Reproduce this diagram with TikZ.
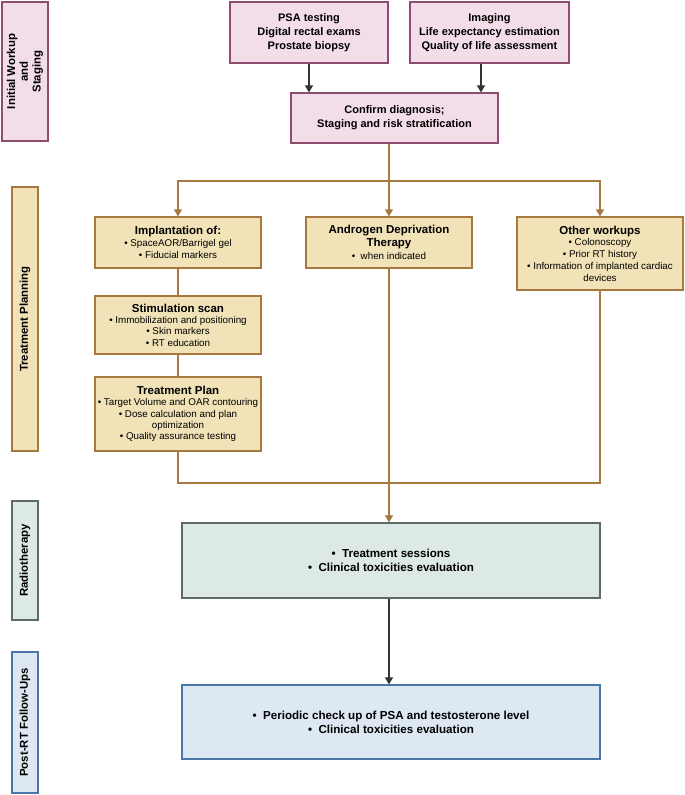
\documentclass[tikz,border=0pt]{standalone}
\usepackage{fontspec}
\setmainfont{Liberation Sans}
\usetikzlibrary{arrows.meta}
\definecolor{pinkfill}{HTML}{F2DDE8}
\definecolor{pinkline}{HTML}{8E4D6F}
\definecolor{tanfill}{HTML}{F1E2B8}
\definecolor{tanline}{HTML}{A8793E}
\definecolor{rtfill}{HTML}{DCE9E5}
\definecolor{rtline}{HTML}{5E6A68}
\definecolor{postfill}{HTML}{DEE8F2}
\definecolor{postline}{HTML}{4A76A8}
\definecolor{darkline}{HTML}{333333}
\tikzset{
  box/.style={draw, line width=1.2pt, inner sep=0pt, align=center},
  pinkbox/.style={box, draw=pinkline, fill=pinkfill, font=\fontsize{11}{13.7}\selectfont\bfseries},
  tanbox/.style={box, draw=tanline, fill=tanfill},
  rtbox/.style={box, draw=rtline, fill=rtfill, font=\fontsize{11.6}{14.5}\selectfont\bfseries},
  postbox/.style={box, draw=postline, fill=postfill, font=\fontsize{11.6}{14}\selectfont\bfseries},
  barlabel/.style={box, rotate=90, font=\fontsize{11.4}{12.8}\selectfont\bfseries},
  blkarr/.style={draw=darkline, line width=1.1pt, -{Triangle[length=7pt,width=8pt]}},
  tanarr/.style={draw=tanline, line width=1.1pt, -{Triangle[length=7pt,width=8pt]}},
  tanln/.style={draw=tanline, line width=1.1pt},
}
\newcommand{\hd}[1]{{\fontsize{11.5}{13.5}\selectfont\bfseries #1}}
\begin{document}
\begin{tikzpicture}[x=1pt,y=-1pt]
\useasboundingbox (0,0) rectangle (685,795);
% left bars
\node[barlabel, draw=pinkline, fill=pinkfill, minimum width=139, minimum height=46] (bar1) at (25,71.5) {Initial Workup\\and\\Staging};
\node[barlabel, draw=tanline, fill=tanfill, minimum width=264, minimum height=26] (bar2) at (25,319) {Treatment Planning};
\node[barlabel, draw=rtline, fill=rtfill, minimum width=119, minimum height=26] (bar3) at (25,560.5) {Radiotherapy};
\node[barlabel, draw=postline, fill=postfill, minimum width=141, minimum height=26] (bar4) at (25,722.5) {Post-RT Follow-Ups};
% top
\node[pinkbox, minimum width=158, minimum height=61] (psa) at (309,32.5) {PSA testing\\Digital rectal exams\\Prostate biopsy};
\node[pinkbox, minimum width=159, minimum height=61] (img) at (489.5,32.5) {Imaging\\Life expectancy estimation\\Quality of life assessment};
\node[pinkbox, minimum width=207, minimum height=50] (conf) at (394.5,118) {Confirm diagnosis;\\Staging and risk stratification};
% planning
\node[tanbox, minimum width=166, minimum height=51, font=\fontsize{9.8}{11.8}\selectfont] (impl) at (178,242.5)
  {\hd{Implantation of:}\\• SpaceAOR/Barrigel gel\\• Fiducial markers};
\node[tanbox, minimum width=166, minimum height=51, font=\fontsize{9.8}{13}\selectfont] (adt) at (389,242.5)
  {\hd{Androgen Deprivation}\\\hd{Therapy}\\•\; when indicated};
\node[tanbox, minimum width=166, minimum height=73, font=\fontsize{9.8}{11.7}\selectfont] (oth) at (600,253.5)
  {\hd{Other workups}\\• Colonoscopy\\• Prior RT history\\• Information of implanted cardiac\\devices};
\node[tanbox, minimum width=166, minimum height=58, font=\fontsize{9.8}{11.4}\selectfont] (stim) at (178,325)
  {\hd{Stimulation scan}\\• Immobilization and positioning\\• Skin markers\\• RT education};
\node[tanbox, minimum width=166, minimum height=74, font=\fontsize{9.8}{11.4}\selectfont] (plan) at (178,414)
  {\hd{Treatment Plan}\\• Target Volume and OAR contouring\\• Dose calculation and plan\\optimization\\• Quality assurance testing};
% radiotherapy and follow-up
\node[rtbox, minimum width=418, minimum height=75] (rt) at (391,560.5)
  {•\; Treatment sessions\\•\; Clinical toxicities evaluation};
\node[postbox, minimum width=418, minimum height=74] (post) at (391,722)
  {•\; Periodic check up of PSA and testosterone level\\•\; Clinical toxicities evaluation};
% connectors
\draw[blkarr] (psa.south) -- (psa.south |- conf.north);
\draw[blkarr] ([xshift=-8.5pt]img.south) -- ([xshift=-8.5pt]img.south |- conf.north);
\coordinate (split) at (389,181);
\coordinate (join) at (389,483);
\draw[tanln] ([xshift=-5.5pt]conf.south) -- (split);
\draw[tanarr] (split) -| (impl.north);
\draw[tanarr] (split) -- (adt.north);
\draw[tanarr] (split) -| (oth.north);
\draw[tanln] (impl.south) -- (stim.north);
\draw[tanln] (stim.south) -- (plan.north);
\draw[tanln] (plan.south) |- (join) -| (oth.south);
\draw[tanarr] (adt.south) -- (adt.south |- rt.north);
\draw[blkarr] ([xshift=-2pt]rt.south) -- ([xshift=-2pt]post.north);
\end{tikzpicture}
\end{document}
